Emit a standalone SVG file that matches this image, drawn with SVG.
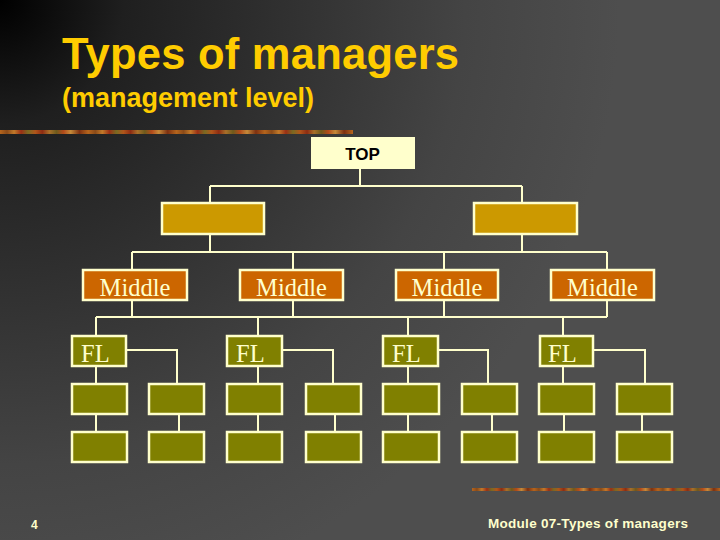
<svg xmlns="http://www.w3.org/2000/svg" width="720" height="540" viewBox="0 0 720 540">
<defs>
<radialGradient id="bg" cx="0" cy="0" r="620" gradientUnits="userSpaceOnUse">
<stop offset="0" stop-color="#000"/>
<stop offset="0.2" stop-color="#1f1f1f"/>
<stop offset="0.5" stop-color="#333"/>
<stop offset="0.75" stop-color="#444"/>
<stop offset="1" stop-color="#4e4e4e"/>
</radialGradient>
<linearGradient id="tex" x1="0" y1="0" x2="0.25" y2="0" spreadMethod="repeat">
<stop offset="0" stop-color="#b5651d"/>
<stop offset="0.08" stop-color="#8a4a18"/>
<stop offset="0.16" stop-color="#c27a2a"/>
<stop offset="0.24" stop-color="#9a2f14"/>
<stop offset="0.32" stop-color="#7a6a22"/>
<stop offset="0.4" stop-color="#b0551a"/>
<stop offset="0.48" stop-color="#8d2c12"/>
<stop offset="0.56" stop-color="#a8702a"/>
<stop offset="0.64" stop-color="#6e5a1c"/>
<stop offset="0.72" stop-color="#b34a1a"/>
<stop offset="0.8" stop-color="#c48a3a"/>
<stop offset="0.9" stop-color="#7d3010"/>
<stop offset="1" stop-color="#b5651d"/>
</linearGradient>
<style>
.ln{fill:none;stroke:#FFFFCC;stroke-width:2}
.gold{fill:#CC9900;stroke:#FFFFCC;stroke-width:2.5}
.mid{fill:#CC6600;stroke:#FFFFCC;stroke-width:2.5}
.ol{fill:#808000;stroke:#FFFFCC;stroke-width:2.5}
.tm{font-family:"Liberation Serif","Times New Roman",serif;font-size:24.5px;fill:#FFFFCC}
.hd{font-family:"Liberation Sans",Arial,sans-serif;font-weight:bold;fill:#FFCC00}
.ft{font-family:"Liberation Sans",Arial,sans-serif;font-weight:bold;fill:#FFFFCC}
</style>
</defs>
<rect width="720" height="540" fill="url(#bg)"/>
<rect x="0" y="130" width="353" height="4" fill="url(#tex)"/>
<rect x="472" y="488" width="248" height="3" fill="url(#tex)"/>
<text class="hd" x="62" y="69" font-size="43.5" textLength="397">Types of managers</text>
<text class="hd" x="62" y="107" font-size="27">(management level)</text>
<text class="ft" x="31" y="529" font-size="12">4</text>
<text class="ft" x="488" y="528" font-size="13.5" textLength="200">Module 07-Types of managers</text>
<g id="connectors" class="ln">
<path d="M360,169V186M210,186H522M210,186V203M522,186V203"/>
<path d="M210,234V252M522,234V252M132,252H607M132,252V270M293,252V270M444,252V270M607,252V270"/>
<path d="M132,300V317M293,300V317M444,300V317M607,300V317M96,317H607M96,317V336M258,317V336M408,317V336M563,317V336"/>
<path d="M96,366V384M126,350H177V384M258,366V384M282,350H333V384M408,366V384M438,350H488V384M563,366V384M593,350H645V384"/>
<path d="M96,414V432M179,414V432M258,414V432M335,414V432M408,414V432M492,414V432M564,414V432M642,414V432"/>
</g>
<g id="top"><rect x="311" y="137" width="104" height="32" fill="#FFFFCC"/><text x="362.5" y="160" text-anchor="middle" font-family="Liberation Sans, Arial, sans-serif" font-weight="bold" font-size="17" fill="#000">TOP</text></g>
<g id="gold1"><rect class="gold" x="162" y="203" width="102" height="31"/></g>
<g id="gold2"><rect class="gold" x="474" y="203" width="103" height="31"/></g>
<g id="middle1"><rect class="mid" x="83" y="270" width="104" height="30"/><text class="tm" x="135" y="296" text-anchor="middle">Middle</text></g>
<g id="middle2"><rect class="mid" x="240" y="270" width="103" height="30"/><text class="tm" x="291.5" y="296" text-anchor="middle">Middle</text></g>
<g id="middle3"><rect class="mid" x="396" y="270" width="102" height="30"/><text class="tm" x="447" y="296" text-anchor="middle">Middle</text></g>
<g id="middle4"><rect class="mid" x="551" y="270" width="103" height="30"/><text class="tm" x="602.5" y="296" text-anchor="middle">Middle</text></g>
<g id="fl1"><rect class="ol" x="72" y="336" width="54" height="30"/><text class="tm" x="81" y="362">FL</text></g>
<g id="fl2"><rect class="ol" x="227" y="336" width="55" height="30"/><text class="tm" x="236" y="362">FL</text></g>
<g id="fl3"><rect class="ol" x="383" y="336" width="55" height="30"/><text class="tm" x="392" y="362">FL</text></g>
<g id="fl4"><rect class="ol" x="540" y="336" width="53" height="30"/><text class="tm" x="548" y="362">FL</text></g>
<g id="b1a"><rect class="ol" x="72" y="384" width="55" height="30"/></g>
<g id="b2a"><rect class="ol" x="149" y="384" width="55" height="30"/></g>
<g id="b3a"><rect class="ol" x="227" y="384" width="55" height="30"/></g>
<g id="b4a"><rect class="ol" x="306" y="384" width="55" height="30"/></g>
<g id="b5a"><rect class="ol" x="383" y="384" width="56" height="30"/></g>
<g id="b6a"><rect class="ol" x="462" y="384" width="55" height="30"/></g>
<g id="b7a"><rect class="ol" x="539" y="384" width="55" height="30"/></g>
<g id="b8a"><rect class="ol" x="617" y="384" width="55" height="30"/></g>
<g id="b1b"><rect class="ol" x="72" y="432" width="55" height="30"/></g>
<g id="b2b"><rect class="ol" x="149" y="432" width="55" height="30"/></g>
<g id="b3b"><rect class="ol" x="227" y="432" width="55" height="30"/></g>
<g id="b4b"><rect class="ol" x="306" y="432" width="55" height="30"/></g>
<g id="b5b"><rect class="ol" x="383" y="432" width="56" height="30"/></g>
<g id="b6b"><rect class="ol" x="462" y="432" width="55" height="30"/></g>
<g id="b7b"><rect class="ol" x="539" y="432" width="55" height="30"/></g>
<g id="b8b"><rect class="ol" x="617" y="432" width="55" height="30"/></g>
</svg>
